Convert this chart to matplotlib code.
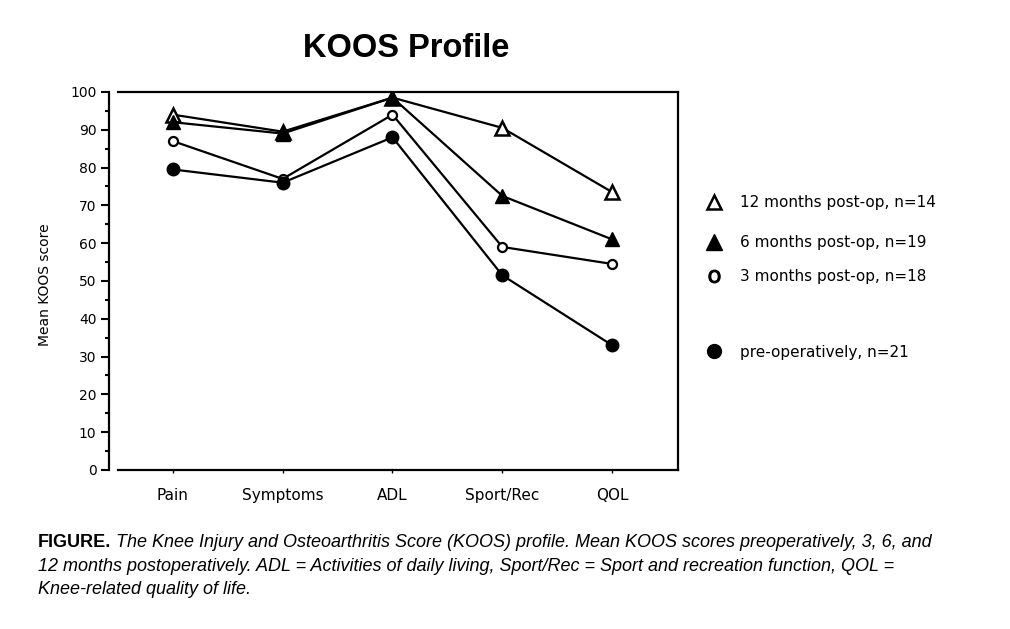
import matplotlib
matplotlib.use("Agg")

import matplotlib.pyplot as plt
from matplotlib.lines import Line2D
from matplotlib import font_manager

# KOOS subscales and mean scores
categories = ["Pain", "Symptoms", "ADL", "Sport/Rec", "QOL"]
months_12 = [94, 89.5, 98.5, 90.5, 73.5]
months_6 = [92, 89, 98.5, 72.5, 61]
months_3 = [87, 77, 94, 59, 54.5]
pre_op = [79.5, 76, 88, 51.5, 33]

labels = [
    "12 months post-op, n=14",
    "6 months post-op, n=19",
    "3 months post-op, n=18",
    "pre-operatively, n=21",
]
yticks = list(range(0, 101, 10))

caption_lines = [
    "The Knee Injury and Osteoarthritis Score (KOOS) profile. Mean KOOS scores preoperatively, 3, 6, and",
    "12 months postoperatively. ADL = Activities of daily living, Sport/Rec = Sport and recreation function, QOL =",
    "Knee-related quality of life.",
]

names = {f.name for f in font_manager.fontManager.ttflist}
cap_font = "Liberation Sans Narrow" if "Liberation Sans Narrow" in names else "Liberation Sans"
tick_font = "DejaVu Sans"

fig = plt.figure(figsize=(10.1, 6.29), dpi=100)
ax = fig.add_axes([0.1168, 0.2528, 0.5545, 0.601])

x = list(range(len(categories)))
styles = [
    (months_12, dict(marker="^", mfc="white", mec="black", ms=9.5, mew=1.8)),
    (months_6, dict(marker="^", mfc="black", mec="black", ms=10)),
    (months_3, dict(marker="o", mfc="white", mec="black", ms=6.5, mew=1.6)),
    (pre_op, dict(marker="o", mfc="black", mec="black", ms=9)),
]
for vals, st in styles:
    ax.plot(x, vals, color="black", lw=1.6, **st)

ax.set_xlim(-0.5, 4.6)
ax.set_ylim(0, 100)
ax.set_yticks(yticks)
ax.set_yticks(range(5, 100, 10), minor=True)
ax.set_xticks(x)
ax.set_xticklabels(categories, fontsize=11, family=tick_font)
ax.set_yticklabels([str(v) for v in yticks], fontsize=11, family=tick_font)
ax.tick_params(axis="y", which="major", length=6, width=1.5, direction="out", pad=3)
ax.tick_params(axis="y", which="minor", length=3, width=1.5, direction="out")
ax.tick_params(axis="x", length=2, width=1, direction="out", pad=11)
for side in ["top", "right", "bottom", "left"]:
    ax.spines[side].set_linewidth(1.6)
ax.spines["left"].set_position(("outward", 6.5))

fig.text(0.402, 0.923, "KOOS Profile", ha="center", va="center",
         fontsize=23.5, fontweight="bold", family="Liberation Sans")
fig.text(0.045, 0.547, "Mean KOOS score", rotation=90, ha="center", va="center",
         fontsize=10, family=tick_font)

# legend entries placed one by one (uneven spacing in the original)
handles = [
    Line2D([], [], ls="none", marker="^", mfc="white", mec="black", ms=10, mew=1.8),
    Line2D([], [], ls="none", marker="^", mfc="black", mec="black", ms=11),
    Line2D([], [], ls="none", marker="$\\mathsf{O}$", color="black", ms=9),
    Line2D([], [], ls="none", marker="o", mfc="black", mec="black", ms=10),
]
legend_y = [203, 243, 277, 352]
for h, lab, yp in zip(handles, labels, legend_y):
    fig.legend([h], [lab], loc="center left",
               bbox_to_anchor=(0.692, 1 - yp / 629),
               frameon=False, handlelength=1.0, handletextpad=1.2,
               borderpad=0, prop={"family": tick_font, "size": 11})

# caption: bold lead-in followed by italic text
cap_x = 38 / 1010
bold = fig.text(cap_x, 1 - 547 / 629, "FIGURE.", ha="left", va="baseline",
                fontsize=13, fontweight="bold", family=cap_font)
ax.annotate(" " + caption_lines[0], xy=(1, 0), xycoords=bold, va="bottom",
            ha="left", fontsize=13, style="italic", family=cap_font,
            annotation_clip=False)
fig.text(cap_x, 1 - 571 / 629, caption_lines[1], ha="left", va="baseline",
         fontsize=13, style="italic", family=cap_font)
fig.text(cap_x, 1 - 594 / 629, caption_lines[2], ha="left", va="baseline",
         fontsize=13, style="italic", family=cap_font)

fig.savefig("out.png", dpi=100)
